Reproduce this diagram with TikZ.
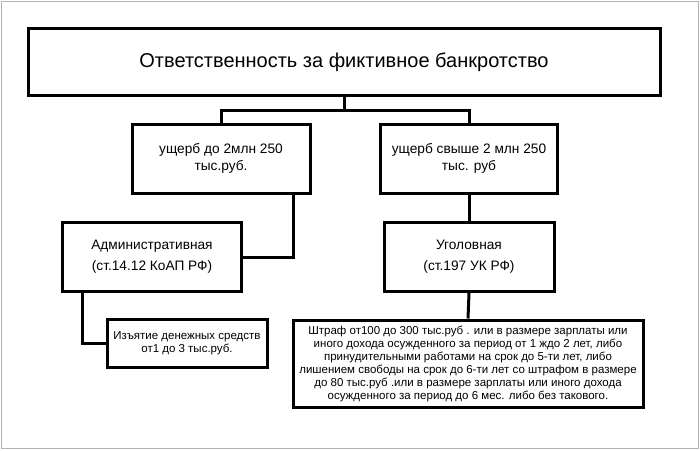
\documentclass[tikz,border=0pt]{standalone}
\usepackage{fontspec}
\setmainfont{Liberation Sans}
\begin{document}
\begin{tikzpicture}[x=1pt,y=-1pt,
  bx/.style={draw,line width=3pt,align=center,inner sep=0pt},
  ln/.style={line width=3pt}]
\useasboundingbox (0,0) rectangle (700,450);
\draw[gray!60] (1,1) rectangle (698,448);
\node[bx,minimum width=632,minimum height=67,font=\fontsize{20}{24}\selectfont] (t) at (344,62) {Ответственность за фиктивное банкротство};
\node[bx,minimum width=178,minimum height=69,font=\fontsize{13.7}{17}\selectfont] (l1) at (221,158.5) {ущерб до 2млн 250\\тыс.руб.};
\node[bx,minimum width=177,minimum height=69,font=\fontsize{13.7}{17}\selectfont] (r1) at (469,158.5) {ущерб свыше 2 млн 250\\тыс. руб};
\node[bx,minimum width=179,minimum height=69,font=\fontsize{13.7}{21}\selectfont] (a) at (152,257) {Административная\\(ст.14.12 КоАП РФ)};
\node[bx,minimum width=170,minimum height=69,font=\fontsize{13.7}{21}\selectfont] (u) at (469,257) {Уголовная\\(ст.197  УК РФ)};
\node[bx,minimum width=160,minimum height=48,font=\fontsize{11.5}{13}\selectfont] (i) at (187,343.5) {Изъятие денежных средств\\от1 до 3 тыс.руб.};
\node[bx,minimum width=350,minimum height=87,font=\fontsize{11.5}{13}\selectfont] (s) at (468,363.5) {Штраф от100 до 300 тыс.руб . или в размере зарплаты или\\иного дохода осужденного за период от 1 ждо 2 лет, либо\\принудительными работами на срок до  5-ти лет, либо\\лишением свободы на срок до 6-ти лет со штрафом в размере\\до 80 тыс.руб .или в размере зарплаты или иного дохода\\осужденного за период до 6 мес. либо без такового.};
\coordinate (j) at (t.south |- 0,110);
\draw[ln] (t.south) -- (j);
\draw[ln] (l1.north) |- (j) -| (r1.north);
\draw[ln] (l1.south -| 293,0) |- (a.east);
\draw[ln] (r1.south) -- (u.north);
\draw[ln] (u.south) -- (s.north);
\draw[ln] (a.south -| 82,0) |- (i.west);
\end{tikzpicture}
\end{document}
